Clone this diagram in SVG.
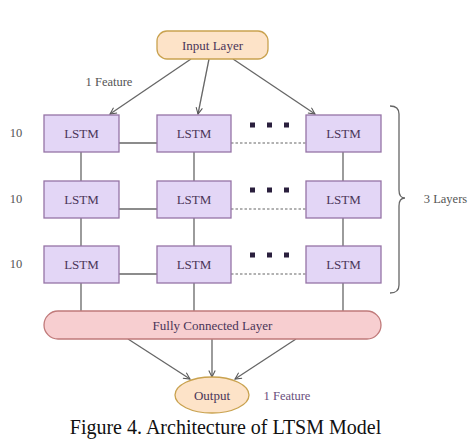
<svg xmlns="http://www.w3.org/2000/svg" width="474" height="439" viewBox="0 0 474 439">
<style>
.lstm{fill:#e3d6f6;stroke:#9673a6;stroke-width:1.3}
.orange{fill:#fde3c8;stroke:#c9a24f;stroke-width:1.3}
.fc{fill:#f7ced0;stroke:#c07a7a;stroke-width:1.3}
.t{font-family:'Liberation Serif','Times New Roman',serif;font-size:13px;fill:#4a3558;text-anchor:middle}
.lbl{font-family:'Liberation Serif','Times New Roman',serif;font-size:12.5px;fill:#555;text-anchor:middle}
.plbl{font-family:'Liberation Serif','Times New Roman',serif;font-size:12.5px;fill:#6a4f7c;text-anchor:middle}
.cap{font-family:'Liberation Serif','Times New Roman',serif;font-size:20px;fill:#111;text-anchor:middle}
.ln{stroke:#666;stroke-width:1.3;fill:none}
.dot{stroke:#666;stroke-width:1.2;stroke-dasharray:2.5,2;fill:none}
.sq{fill:#2a1f3d}
</style>
<defs>
<marker id="arr" viewBox="0 0 10 10" refX="9" refY="5" markerWidth="8" markerHeight="8" orient="auto" markerUnits="userSpaceOnUse">
<path d="M1,1 L9,5 L1,9" fill="none" stroke="#555" stroke-width="1.3"/>
</marker>
</defs>
<g id="connectors">
<line class="ln" x1="191" y1="59" x2="110" y2="114" marker-end="url(#arr)"/>
<line class="ln" x1="209" y1="59" x2="198" y2="114" marker-end="url(#arr)"/>
<line class="ln" x1="233" y1="59" x2="315" y2="114" marker-end="url(#arr)"/>
<line class="ln" x1="81" y1="152" x2="81" y2="311"/>
<line class="ln" x1="194" y1="152" x2="194" y2="311"/>
<line class="ln" x1="343" y1="152" x2="343" y2="311"/>
<line class="ln" x1="119" y1="143" x2="157" y2="143"/>
<line class="ln" x1="119" y1="209" x2="157" y2="209"/>
<line class="ln" x1="119" y1="274" x2="157" y2="274"/>
<line class="dot" x1="231" y1="143" x2="306" y2="143"/>
<line class="dot" x1="231" y1="209" x2="306" y2="209"/>
<line class="dot" x1="231" y1="274" x2="306" y2="274"/>
<line class="ln" x1="128" y1="339" x2="190" y2="379" marker-end="url(#arr)"/>
<line class="ln" x1="212" y1="339" x2="212" y2="377" marker-end="url(#arr)"/>
<line class="ln" x1="296" y1="339" x2="235" y2="379" marker-end="url(#arr)"/>
</g>
<g id="input-layer">
<rect class="orange" x="157" y="31" width="111" height="28" rx="10"/>
<text class="t" x="212.5" y="49.5">Input Layer</text>
</g>
<text class="lbl" x="109" y="86">1 Feature</text>
<g id="row1">
<g id="lstm-1-1"><rect class="lstm" x="44" y="115" width="75" height="37"/><text class="t" x="81.5" y="138">LSTM</text></g>
<g id="lstm-1-2"><rect class="lstm" x="157" y="115" width="74" height="37"/><text class="t" x="194" y="138">LSTM</text></g>
<g id="lstm-1-3"><rect class="lstm" x="306" y="115" width="75" height="37"/><text class="t" x="343.5" y="138">LSTM</text></g>
</g>
<g id="row2">
<g id="lstm-2-1"><rect class="lstm" x="44" y="181" width="75" height="37"/><text class="t" x="81.5" y="203.5">LSTM</text></g>
<g id="lstm-2-2"><rect class="lstm" x="157" y="181" width="74" height="37"/><text class="t" x="194" y="203.5">LSTM</text></g>
<g id="lstm-2-3"><rect class="lstm" x="306" y="181" width="75" height="37"/><text class="t" x="343.5" y="203.5">LSTM</text></g>
</g>
<g id="row3">
<g id="lstm-3-1"><rect class="lstm" x="44" y="246" width="75" height="37"/><text class="t" x="81.5" y="268.5">LSTM</text></g>
<g id="lstm-3-2"><rect class="lstm" x="157" y="246" width="74" height="37"/><text class="t" x="194" y="268.5">LSTM</text></g>
<g id="lstm-3-3"><rect class="lstm" x="306" y="246" width="75" height="37"/><text class="t" x="343.5" y="268.5">LSTM</text></g>
</g>
<g id="ellipsis-dots">
<rect class="sq" x="250" y="122.5" width="5" height="5"/><rect class="sq" x="267" y="122.5" width="5" height="5"/><rect class="sq" x="284" y="122.5" width="5" height="5"/>
<rect class="sq" x="250" y="187.5" width="5" height="5"/><rect class="sq" x="267" y="187.5" width="5" height="5"/><rect class="sq" x="284" y="187.5" width="5" height="5"/>
<rect class="sq" x="250" y="252.5" width="5" height="5"/><rect class="sq" x="267" y="252.5" width="5" height="5"/><rect class="sq" x="284" y="252.5" width="5" height="5"/>
</g>
<text class="lbl" x="16" y="137">10</text>
<text class="lbl" x="16" y="203">10</text>
<text class="lbl" x="16" y="268">10</text>
<g id="brace">
<path class="ln" d="M390,106 Q399,106 399,114 L399,190 Q399,198 405,198 Q399,198 399,206 L399,285 Q399,293 390,293"/>
</g>
<text class="lbl" x="445.5" y="203">3 Layers</text>
<g id="fully-connected">
<rect class="fc" x="44" y="311" width="337" height="28" rx="14"/>
<text class="t" x="212.5" y="329.5">Fully Connected Layer</text>
</g>
<g id="output">
<ellipse class="orange" cx="212" cy="395" rx="37" ry="18"/>
<text class="t" x="212" y="399.5">Output</text>
</g>
<text class="plbl" x="287" y="399.5">1 Feature</text>
<text class="cap" x="225.5" y="434">Figure 4. Architecture of LTSM Model</text>
</svg>
